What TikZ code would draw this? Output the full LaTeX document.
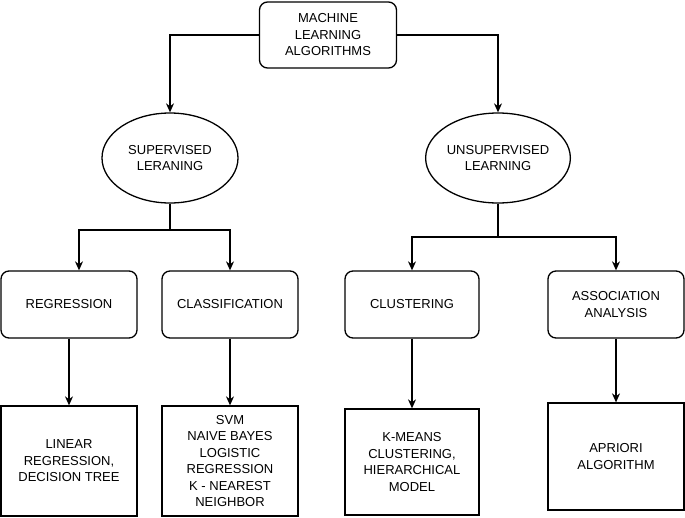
\documentclass[tikz,border=0pt]{standalone}
\usepackage{fontspec}
\setmainfont{Liberation Sans}
\usetikzlibrary{shapes.geometric,arrows.meta}

\begin{document}
\begin{tikzpicture}[x=1pt,y=-1pt,
    every node/.style={font=\fontsize{13}{16.5}\selectfont, align=center, inner sep=0pt},
    rbox/.style={draw, line width=1.3pt, rounded corners=8pt, minimum width=136pt, minimum height=67pt},
    oval/.style={draw, ellipse, line width=1.3pt, minimum width=136pt, minimum height=90pt},
    leaf/.style={draw, line width=1.3pt, minimum width=136pt, minimum height=110pt},
    wire/.style={line width=1.2pt},
    link/.style={line width=1.2pt, -{Stealth[length=9pt,width=8pt]}}]
      \useasboundingbox (0,0) rectangle (685,517);
      % root and the two branches
      \node[rbox, minimum width=137pt, minimum height=66pt] (mla) at (328,35) {MACHINE\\LEARNING\\ALGORITHMS};
      \node[oval] (sup) at (170,158) {SUPERVISED\\LERANING};
      \node[oval, minimum width=132pt] (unsup) at (498,158) {UNSUPERVISED\\LEARNING};
      % task types
      \node[rbox] (reg) at (69,304.5) {REGRESSION};
      \node[rbox] (cls) at (230,304.5) {CLASSIFICATION};
      \node[rbox, minimum width=134pt] (clu) at (412,304.5) {CLUSTERING};
      \node[rbox] (aso) at (616,304.5) {ASSOCIATION\\ANALYSIS};
      % algorithms
      \node[leaf] (lin) at (69,461) {LINEAR\\REGRESSION,\\DECISION TREE};
      \node[leaf] (svm) at (230,461) {SVM\\NAIVE BAYES\\LOGISTIC\\REGRESSION\\K - NEAREST\\NEIGHBOR};
      \node[leaf, minimum width=134pt, minimum height=106pt] (kmn) at (412,462) {K-MEANS\\CLUSTERING,\\HIERARCHICAL\\MODEL};
      \node[leaf, minimum height=107pt] (apr) at (616,456.5) {APRIORI\\ALGORITHM};
      \coordinate (supfork) at (170,230);
      \coordinate (unsfork) at (498,237);
      \draw[link] (mla.west) -| (sup.north);
      \draw[link] (mla.east) -| (unsup.north);
      \draw[wire] (sup.south) -- (supfork);
      \draw[link] (supfork) -| ([xshift=10pt]reg.north);
      \draw[link] (supfork) -| (cls.north);
      \draw[wire] (unsup.south) -- (unsfork);
      \draw[link] (unsfork) -| (clu.north);
      \draw[link] (unsfork) -| (aso.north);
      \draw[link] (reg) -- (lin);
      \draw[link] (cls) -- (svm);
      \draw[link] (clu) -- (kmn);
      \draw[link] (aso) -- (apr);
    \end{tikzpicture}
\end{document}
